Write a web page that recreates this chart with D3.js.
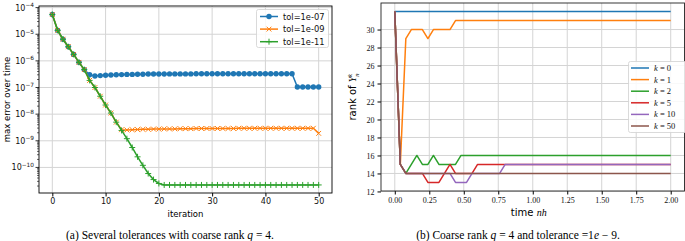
<!DOCTYPE html>
<html>
<head>
<meta charset="utf-8">
<script src="https://cdn.jsdelivr.net/npm/d3@7"></script>
<style>
  body { margin: 0; background: #fff; }
  svg { display: block; }
</style>
</head>
<body>
<div id="chart"></div>
<script>
// ---------------------------------------------------------------------------
// DATA
// ---------------------------------------------------------------------------
const iterations = d3.range(0, 51);

const tolLabels = ['tol=1e-07', 'tol=1e-09', 'tol=1e-11'];

const tol7 = [
  5.5e-5, 1.4e-5, 6.5e-6, 3.4e-6, 1.75e-6, 8.8e-7, 4.7e-7, 3.0e-7, 2.7e-7, 2.8e-7,
  2.9e-7, 2.95e-7, 3.0e-7, 3.05e-7, 3.1e-7, 3.1e-7, 3.15e-7, 3.15e-7, 3.2e-7, 3.2e-7,
  3.2e-7, 3.2e-7, 3.25e-7, 3.25e-7, 3.25e-7, 3.25e-7, 3.25e-7, 3.3e-7, 3.3e-7, 3.3e-7,
  3.3e-7, 3.3e-7, 3.3e-7, 3.3e-7, 3.3e-7, 3.3e-7, 3.3e-7, 3.3e-7, 3.3e-7, 3.3e-7,
  3.3e-7, 3.3e-7, 3.3e-7, 3.3e-7, 3.3e-7, 3.3e-7, 1.05e-7, 1.05e-7, 1.05e-7, 1.05e-7,
  1.05e-7
];
const tol9 = [
  5.5e-5, 1.4e-5, 6.5e-6, 3.4e-6, 1.75e-6, 8.8e-7, 4.7e-7, 1.85e-7, 1.0e-7, 4.7e-8,
  2.2e-8, 1.1e-8, 5.0e-9, 2.6e-9, 2.55e-9, 2.6e-9, 2.65e-9, 2.7e-9, 2.7e-9, 2.75e-9,
  2.75e-9, 2.8e-9, 2.8e-9, 2.8e-9, 2.85e-9, 2.85e-9, 2.85e-9, 2.9e-9, 2.9e-9, 2.9e-9,
  2.9e-9, 2.9e-9, 2.9e-9, 2.9e-9, 2.9e-9, 2.95e-9, 2.95e-9, 2.95e-9, 2.95e-9, 2.95e-9,
  2.95e-9, 2.95e-9, 2.95e-9, 2.95e-9, 2.95e-9, 2.95e-9, 2.95e-9, 2.95e-9, 2.95e-9, 2.95e-9,
  1.9e-9
];
const tol11 = [
  5.5e-5, 1.4e-5, 6.5e-6, 3.4e-6, 1.75e-6, 8.8e-7, 4.7e-7, 1.85e-7, 1.0e-7, 4.7e-8,
  2.2e-8, 1.1e-8, 5.0e-9, 2.45e-9, 1.2e-9, 5.6e-10, 2.5e-10, 1.2e-10, 5.9e-11, 3.5e-11,
  2.5e-11, 2.2e-11, 2.2e-11, 2.2e-11, 2.2e-11, 2.2e-11, 2.2e-11, 2.2e-11, 2.2e-11, 2.2e-11,
  2.2e-11, 2.2e-11, 2.2e-11, 2.2e-11, 2.2e-11, 2.2e-11, 2.2e-11, 2.2e-11, 2.2e-11, 2.2e-11,
  2.2e-11, 2.2e-11, 2.2e-11, 2.2e-11, 2.2e-11, 2.2e-11, 2.2e-11, 2.2e-11, 2.2e-11, 2.2e-11,
  2.2e-11
];

const leftXTicks = [0, 10, 20, 30, 40, 50];
const leftYTicks = [-10, -9, -8, -7, -6, -5, -4]; // exponents

// time steps nh (step 0.04 up to 2.0)
const times = d3.range(0, 51).map(i => i * 0.04);

const kLabels = ['0', '1', '2', '5', '10', '50'];

const rankK0 = [
  32, 32, 32, 32, 32, 32, 32, 32, 32, 32,
  32, 32, 32, 32, 32, 32, 32, 32, 32, 32,
  32, 32, 32, 32, 32, 32, 32, 32, 32, 32,
  32, 32, 32, 32, 32, 32, 32, 32, 32, 32,
  32, 32, 32, 32, 32, 32, 32, 32, 32, 32,
  32
];
const rankK1 = [
  32, 15, 29, 30, 30, 30, 29, 30, 30, 30,
  30, 31, 31, 31, 31, 31, 31, 31, 31, 31,
  31, 31, 31, 31, 31, 31, 31, 31, 31, 31,
  31, 31, 31, 31, 31, 31, 31, 31, 31, 31,
  31, 31, 31, 31, 31, 31, 31, 31, 31, 31,
  31
];
const rankK2 = [
  32, 15, 14, 15, 16, 15, 15, 16, 15, 15,
  15, 15, 16, 16, 16, 16, 16, 16, 16, 16,
  16, 16, 16, 16, 16, 16, 16, 16, 16, 16,
  16, 16, 16, 16, 16, 16, 16, 16, 16, 16,
  16, 16, 16, 16, 16, 16, 16, 16, 16, 16,
  16
];
const rankK5 = [
  32, 15, 14, 14, 14, 14, 13, 13, 13, 14,
  15, 14, 14, 14, 14, 15, 15, 15, 15, 15,
  15, 15, 15, 15, 15, 15, 15, 15, 15, 15,
  15, 15, 15, 15, 15, 15, 15, 15, 15, 15,
  15, 15, 15, 15, 15, 15, 15, 15, 15, 15,
  15
];
const rankK10 = [
  32, 15, 14, 14, 14, 14, 14, 14, 14, 14,
  14, 13, 13, 13, 14, 14, 14, 14, 14, 14,
  15, 15, 15, 15, 15, 15, 15, 15, 15, 15,
  15, 15, 15, 15, 15, 15, 15, 15, 15, 15,
  15, 15, 15, 15, 15, 15, 15, 15, 15, 15,
  15
];
const rankK50 = [
  32, 15, 14, 14, 14, 14, 14, 14, 14, 14,
  14, 14, 14, 14, 14, 14, 14, 14, 14, 14,
  14, 14, 14, 14, 14, 14, 14, 14, 14, 14,
  14, 14, 14, 14, 14, 14, 14, 14, 14, 14,
  14, 14, 14, 14, 14, 14, 14, 14, 14, 14,
  14
];

const rightXTicks = [0, 0.25, 0.5, 0.75, 1.0, 1.25, 1.5, 1.75, 2.0];
const rightYTicks = [12, 14, 16, 18, 20, 22, 24, 26, 28, 30];

// ---------------------------------------------------------------------------
// SETUP
// ---------------------------------------------------------------------------
const colors = ['#1f77b4', '#ff7f0e', '#2ca02c', '#d62728', '#9467bd', '#8c564b'];
const gridColor = '#d4d4d4';
const sans = '"DejaVu Sans", sans-serif';
const serif = '"Liberation Serif", "DejaVu Serif", serif';

const svg = d3.select('#chart').append('svg')
  .attr('width', 685)
  .attr('height', 241);

// ---------------------------------------------------------------------------
// LEFT PANEL
// ---------------------------------------------------------------------------
const L = {left: 39, right: 332, top: 6, bottom: 193};

const xL = d3.scaleLinear().domain([-2.5, 52.5]).range([L.left, L.right]);
const yL = d3.scaleLog().domain([Math.pow(10, -10.96), Math.pow(10, -3.94)]).range([L.bottom, L.top]);

const left = svg.append('g');

// grid
left.append('g').selectAll('line').data(leftXTicks).join('line')
  .attr('x1', d => xL(d)).attr('x2', d => xL(d))
  .attr('y1', L.top).attr('y2', L.bottom)
  .attr('stroke', gridColor).attr('stroke-width', 1);
left.append('g').selectAll('line').data(leftYTicks).join('line')
  .attr('x1', L.left).attr('x2', L.right)
  .attr('y1', d => yL(Math.pow(10, d))).attr('y2', d => yL(Math.pow(10, d)))
  .attr('stroke', gridColor).attr('stroke-width', 1);

// axes
const xAxisL = left.append('g')
  .attr('transform', `translate(0,${L.bottom})`)
  .call(d3.axisBottom(xL).tickValues(leftXTicks).tickSize(3.5).tickPadding(2).tickFormat(d3.format('d')));
xAxisL.select('.domain').remove();
xAxisL.selectAll('text').attr('font-family', sans).attr('font-size', 8).attr('fill', '#111');

// y ticks (major + minor)
const minorTicks = [];
for (let e = -11; e <= -4; e++) {
  for (let m = 2; m <= 9; m++) {
    const v = m * Math.pow(10, e);
    const [lo, hi] = yL.domain();
    if (v > lo && v < hi) minorTicks.push(v);
  }
}
left.append('g').selectAll('line').data(minorTicks).join('line')
  .attr('x1', L.left - 2).attr('x2', L.left)
  .attr('y1', d => yL(d)).attr('y2', d => yL(d))
  .attr('stroke', '#000').attr('stroke-width', 0.6);
left.append('g').selectAll('line').data(leftYTicks).join('line')
  .attr('x1', L.left - 3.5).attr('x2', L.left)
  .attr('y1', d => yL(Math.pow(10, d))).attr('y2', d => yL(Math.pow(10, d)))
  .attr('stroke', '#000').attr('stroke-width', 0.8);
const yLabs = left.append('g').selectAll('text').data(leftYTicks).join('text')
  .attr('x', L.left - 5)
  .attr('y', d => yL(Math.pow(10, d)) + 3)
  .attr('text-anchor', 'end')
  .attr('font-family', sans)
  .attr('font-size', 8)
  .attr('fill', '#111');
yLabs.append('tspan').text('10');
yLabs.append('tspan').attr('dy', -3.5).attr('font-size', 5.8).text(d => '\u2212' + Math.abs(d));

// frame
left.append('rect')
  .attr('x', L.left).attr('y', L.top)
  .attr('width', L.right - L.left).attr('height', L.bottom - L.top)
  .attr('fill', 'none').attr('stroke', '#000').attr('stroke-width', 0.9);

// labels
left.append('text')
  .attr('x', (L.left + L.right) / 2).attr('y', 217)
  .attr('text-anchor', 'middle')
  .attr('font-family', sans).attr('font-size', 8.5)
  .text('iteration');
left.append('text')
  .attr('transform', `translate(10,${(L.top + L.bottom) / 2}) rotate(-90)`)
  .attr('text-anchor', 'middle')
  .attr('font-family', sans).attr('font-size', 8.5)
  .text('max error over time');

// series
const tolSeries = [tol7, tol9, tol11];
const lineL = d3.line().x((d, i) => xL(iterations[i])).y(d => yL(d));

tolSeries.forEach((s, si) => {
  const g = left.append('g');
  g.append('path')
    .attr('d', lineL(s))
    .attr('fill', 'none')
    .attr('stroke', colors[si])
    .attr('stroke-width', 1.5);
  drawMarkers(g, s.map((v, i) => [xL(iterations[i]), yL(v)]), si);
});

function markerShape(g, x, y, si) {
  if (si === 0) {
    g.append('circle').attr('cx', x).attr('cy', y).attr('r', 2.7).attr('fill', colors[0]);
  } else if (si === 1) {
    const r = 2.4;
    g.append('path')
      .attr('d', `M${x - r},${y - r}L${x + r},${y + r}M${x - r},${y + r}L${x + r},${y - r}`)
      .attr('stroke', colors[1]).attr('stroke-width', 1).attr('fill', 'none');
  } else {
    const r = 3;
    g.append('path')
      .attr('d', `M${x - r},${y}H${x + r}M${x},${y - r}V${y + r}`)
      .attr('stroke', colors[2]).attr('stroke-width', 1).attr('fill', 'none');
  }
}

function drawMarkers(g, pts, si) {
  pts.forEach(([x, y]) => markerShape(g, x, y, si));
}

// legend
const legL = left.append('g');
legL.append('rect')
  .attr('x', 256.5).attr('y', 9.5).attr('width', 72).attr('height', 38).attr('rx', 2)
  .attr('fill', '#fff').attr('fill-opacity', 0.85)
  .attr('stroke', '#d0d0d0').attr('stroke-width', 0.8);
tolLabels.forEach((lab, i) => {
  const y = 16.5 + i * 12.6;
  legL.append('line')
    .attr('x1', 260).attr('x2', 278).attr('y1', y).attr('y2', y)
    .attr('stroke', colors[i]).attr('stroke-width', 1.5);
  markerShape(legL, 269, y, i);
  legL.append('text')
    .attr('x', 283).attr('y', y + 3)
    .attr('font-family', sans).attr('font-size', 8.3)
    .attr('fill', '#111')
    .text(lab);
});

// caption
const capA = svg.append('text')
  .attr('x', 170).attr('y', 239)
  .attr('text-anchor', 'middle')
  .attr('font-family', serif).attr('font-size', 11.5);
capA.append('tspan').text('(a) Several tolerances with coarse rank ');
capA.append('tspan').attr('font-style', 'italic').text('q');
capA.append('tspan').text(' = 4.');

// ---------------------------------------------------------------------------
// RIGHT PANEL
// ---------------------------------------------------------------------------
const R = {left: 381, right: 684.5, top: 3, bottom: 191};

const xR = d3.scaleLinear().domain([-0.1, 2.1]).range([R.left, R.right]);
const yR = d3.scaleLinear().domain([12.05, 32.95]).range([R.bottom, R.top]);

const right = svg.append('g');

right.append('g').selectAll('line').data(rightXTicks).join('line')
  .attr('x1', d => xR(d)).attr('x2', d => xR(d))
  .attr('y1', R.top).attr('y2', R.bottom)
  .attr('stroke', gridColor).attr('stroke-width', 1);
right.append('g').selectAll('line').data(rightYTicks).join('line')
  .attr('x1', R.left).attr('x2', R.right)
  .attr('y1', d => yR(d)).attr('y2', d => yR(d))
  .attr('stroke', gridColor).attr('stroke-width', 1);

const xAxisR = right.append('g')
  .attr('transform', `translate(0,${R.bottom})`)
  .call(d3.axisBottom(xR).tickValues(rightXTicks).tickSize(3.5).tickPadding(3).tickFormat(d3.format('.2f')));
xAxisR.select('.domain').remove();
xAxisR.selectAll('text').attr('font-family', serif).attr('font-size', 8).attr('fill', '#111');

const yAxisR = right.append('g')
  .attr('transform', `translate(${R.left},0)`)
  .call(d3.axisLeft(yR).tickValues(rightYTicks).tickSize(3.5).tickPadding(3));
yAxisR.select('.domain').remove();
yAxisR.selectAll('text').attr('font-family', serif).attr('font-size', 8).attr('fill', '#111');

const rankSeries = [rankK0, rankK1, rankK2, rankK5, rankK10, rankK50];
const lineR = d3.line().x((d, i) => xR(times[i])).y(d => yR(d));

rankSeries.forEach((s, si) => {
  right.append('path')
    .attr('d', lineR(s))
    .attr('fill', 'none')
    .attr('stroke', colors[si])
    .attr('stroke-width', 1.5)
    .attr('stroke-linejoin', 'round');
});

right.append('rect')
  .attr('x', R.left).attr('y', R.top)
  .attr('width', R.right - R.left).attr('height', R.bottom - R.top)
  .attr('fill', 'none').attr('stroke', '#222').attr('stroke-width', 0.9);

// legend
const legR = right.append('g');
legR.append('rect')
  .attr('x', 628.5).attr('y', 61.5).attr('width', 62).attr('height', 71).attr('rx', 2)
  .attr('fill', '#fff').attr('fill-opacity', 0.85)
  .attr('stroke', '#d0d0d0').attr('stroke-width', 0.8);
kLabels.forEach((lab, i) => {
  const y = 68 + i * 11.6;
  legR.append('line')
    .attr('x1', 631).attr('x2', 649).attr('y1', y).attr('y2', y)
    .attr('stroke', colors[i]).attr('stroke-width', 1.5);
  const t = legR.append('text')
    .attr('x', 654).attr('y', y + 3)
    .attr('font-family', serif).attr('font-size', 8.5)
    .attr('fill', '#111');
  t.append('tspan').attr('font-style', 'italic').text('k');
  t.append('tspan').text(' = ' + lab);
});

// axis labels
const xLabR = right.append('text')
  .attr('x', (R.left + R.right) / 2 - 4).attr('y', 216)
  .attr('text-anchor', 'middle')
  .attr('font-size', 10);
xLabR.append('tspan').attr('font-family', sans).text('time ');
xLabR.append('tspan').attr('font-family', serif).attr('font-style', 'italic').text('nh');

const yLabR = right.append('text')
  .attr('transform', `translate(356,${(R.top + R.bottom) / 2}) rotate(-90)`)
  .attr('text-anchor', 'middle')
  .attr('font-size', 10);
yLabR.append('tspan').attr('font-family', sans).text('rank of ');
yLabR.append('tspan').attr('font-family', serif).attr('font-style', 'italic').text('Y');
yLabR.append('tspan').attr('font-family', serif).attr('font-style', 'italic')
  .attr('font-size', 6.5).attr('dy', 3).text('n');
yLabR.append('tspan').attr('font-family', serif).attr('font-style', 'italic')
  .attr('font-size', 6.5).attr('dx', -3.5).attr('dy', -7).text('k');

// caption
const capB = svg.append('text')
  .attr('x', 518).attr('y', 239)
  .attr('text-anchor', 'middle')
  .attr('font-family', serif).attr('font-size', 11.5);
capB.append('tspan').text('(b) Coarse rank ');
capB.append('tspan').attr('font-style', 'italic').text('q');
capB.append('tspan').text(' = 4 and tolerance =1');
capB.append('tspan').attr('font-style', 'italic').text('e');
capB.append('tspan').text(' \u2212 9.');
</script>
</body>
</html>
